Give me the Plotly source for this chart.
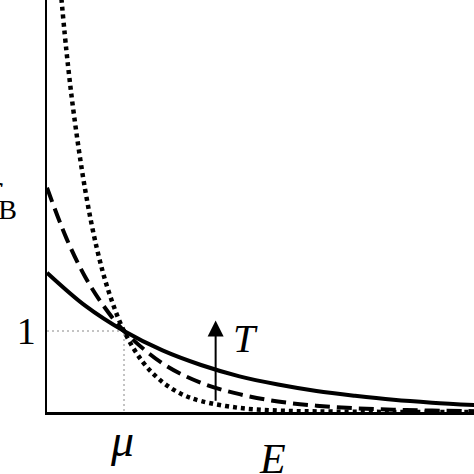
import plotly.graph_objects as go

# energy axis in units of mu (mu = 1)
mu = 1.0

E_solid = [0.0, 0.5, 1.0, 1.5, 2.0, 2.5, 3.0, 3.5, 4.0, 4.5, 5.0, 5.55]
f_solid = [1.72, 1.31, 1.0, 0.76, 0.58, 0.44, 0.34, 0.26, 0.20, 0.15, 0.115, 0.086]

E_dash = [0.0, 0.25, 0.5, 0.75, 1.0, 1.5, 2.0, 2.5, 3.0, 3.5, 4.0, 4.5, 5.0, 5.55]
f_dash = [2.77, 2.15, 1.66, 1.29, 1.0, 0.60, 0.36, 0.22, 0.13, 0.078, 0.047, 0.028, 0.017, 0.010]

E_dot = [0.15, 0.25, 0.35, 0.5, 0.65, 0.8, 1.0, 1.25, 1.5, 1.75, 2.0, 2.5, 3.0, 3.5, 4.5, 5.55]
f_dot = [5.5, 4.48, 3.67, 2.72, 2.01, 1.49, 1.0, 0.61, 0.37, 0.22, 0.135, 0.050, 0.018, 0.007, 0.001, 0.0001]

arrow_E = 2.19
arrow_f = [0.12, 1.13]

SERIF = "Liberation Serif"

fig = go.Figure()

# guide lines to the crossing point
fig.add_trace(go.Scatter(x=[0, mu, mu], y=[1, 1, 0], mode="lines",
                         line=dict(color="#888888", width=1, dash="2px,3px"),
                         showlegend=False, hoverinfo="skip"))

fig.add_trace(go.Scatter(x=E_solid, y=f_solid, mode="lines", line_shape="spline",
                         line=dict(color="black", width=4), showlegend=False))
fig.add_trace(go.Scatter(x=E_dash, y=f_dash, mode="lines", line_shape="spline",
                         line=dict(color="black", width=4, dash="15px,7px"), showlegend=False))
fig.add_trace(go.Scatter(x=E_dot, y=f_dot, mode="lines", line_shape="spline",
                         line=dict(color="black", width=4.5, dash="4px,4px"), showlegend=False))

# arrow showing increasing T
fig.add_annotation(x=arrow_E, y=arrow_f[1], ax=arrow_E, ay=arrow_f[0],
                   xref="x", yref="y", axref="x", ayref="y",
                   showarrow=True, arrowhead=2, arrowsize=1.6, arrowwidth=2,
                   arrowcolor="black", text="")

def label(txt, px, py, size, xanchor="center"):
    # px, py are pixel positions in the 474x474 picture
    fig.add_annotation(x=(px - 47) / 427, y=(412 - py) / 412,
                       xref="x domain", yref="y domain",
                       xanchor=xanchor, yanchor="middle",
                       text=txt, showarrow=False,
                       font=dict(family=SERIF, size=size, color="black"))

label("<i>T</i>", 245, 338, 40)
label("<i>E</i>", 272, 459, 42)
label("<i>μ</i>", 122, 440, 46)
label("<i>f</i><sub>B</sub>", 19, 200, 40, xanchor="right")

fig.update_layout(
    width=474, height=474,
    margin=dict(l=47, r=0, t=0, b=62, autoexpand=False),
    plot_bgcolor="white", paper_bgcolor="white",
    xaxis=dict(range=[0, 427 / 77], showgrid=False, zeroline=False,
               showline=True, linecolor="black", linewidth=2.5,
               showticklabels=False, ticks=""),
    yaxis=dict(range=[0, 412 / 81], showgrid=False, zeroline=False,
               showline=True, linecolor="black", linewidth=1.5,
               tickvals=[1], ticktext=["1"], ticks="",
               ticklabelstandoff=2,
               tickfont=dict(family=SERIF, size=38, color="black")),
)

fig.write_html("out.html", config={"displayModeBar": False},
               post_script="document.body.style.margin='0px';")
